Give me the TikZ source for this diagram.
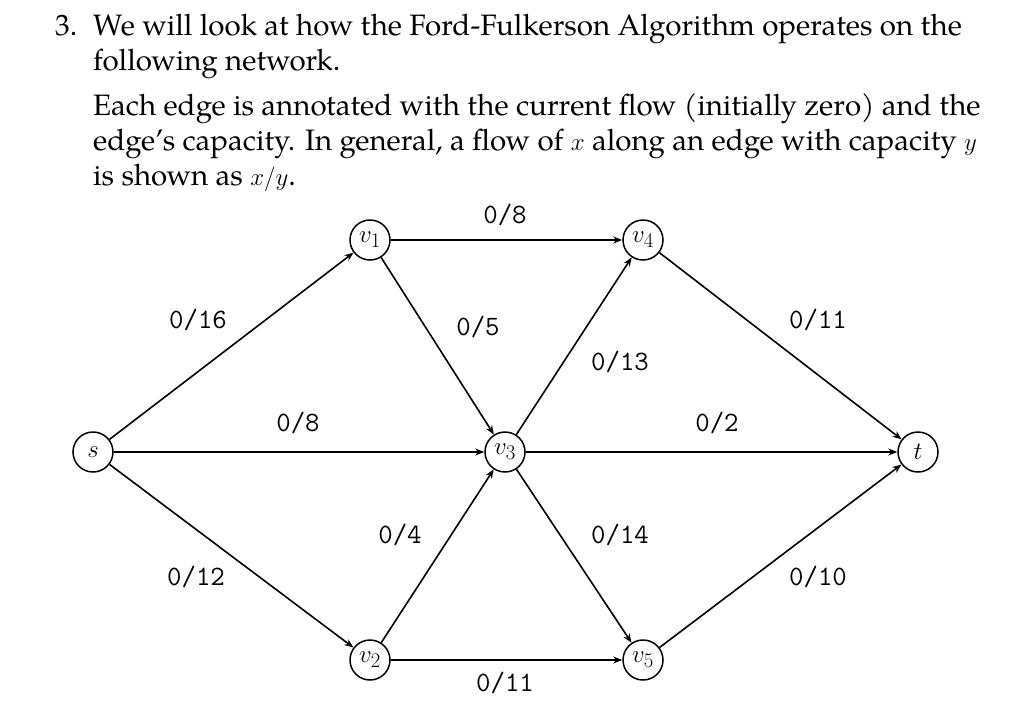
\documentclass[tikz,border=0pt]{standalone}
\usepackage{fontspec}
\setmainfont{TeX Gyre Pagella}
\usetikzlibrary{arrows.meta}
\begin{document}
\begin{tikzpicture}[x=1pt,y=-1pt,
  vert/.style={circle,draw,line width=1.5pt,minimum size=40pt,inner sep=0pt,font=\fontsize{28}{28}\selectfont},
  lab/.style={font=\fontsize{28}{28}\ttfamily},
  txt/.style={anchor=base west,inner sep=0pt,font=\fontsize{29.5}{30}\selectfont},
  edge/.style={-{Stealth[length=9pt,width=7pt]},line width=1.6pt}]
\useasboundingbox (0,0) rectangle (1024,716);
\node[txt] (n3) at (55,35) {3.};
\node[txt] (l1) at (93,35) {We will look at how the Ford-Fulkerson Algorithm operates on the};
\node[txt] (l2) at (93,70) {following network.};
\node[txt] (l3) at (93,115) {Each edge is annotated with the current flow (initially zero) and the};
\node[txt] (l4) at (93,150) {edge’s capacity. In general, a flow of $x$ along an edge with capacity $y$};
\node[txt] (l5) at (93,185) {is shown as $x/y$.};
\node[vert] (s) at (93,452) {$s$};
\node[vert] (v1) at (370,240) {$v_1$};
\node[vert] (v4) at (643,240) {$v_4$};
\node[vert] (v3) at (505,452) {$v_3$};
\node[vert] (t) at (918,452) {$t$};
\node[vert] (v2) at (370,660) {$v_2$};
\node[vert] (v5) at (643,660) {$v_5$};
\draw[edge] (s) -- (v1);
\draw[edge] (s) -- (v3);
\draw[edge] (s) -- (v2);
\draw[edge] (v1) -- (v4);
\draw[edge] (v1) -- (v3);
\draw[edge] (v3) -- (v4);
\draw[edge] (v4) -- (t);
\draw[edge] (v3) -- (t);
\draw[edge] (v2) -- (v3);
\draw[edge] (v3) -- (v5);
\draw[edge] (v2) -- (v5);
\draw[edge] (v5) -- (t);
\node[lab] (a) at (505,215) {0/8};
\node[lab] (b) at (198,320) {0/16};
\node[lab] (c) at (478,327) {0/5};
\node[lab] (d) at (620,362) {0/13};
\node[lab] (e) at (818,320) {0/11};
\node[lab] (f) at (298,423) {0/8};
\node[lab] (g) at (717,423) {0/2};
\node[lab] (h) at (400,535) {0/4};
\node[lab] (i) at (620,535) {0/14};
\node[lab] (j) at (196,577) {0/12};
\node[lab] (k) at (818,577) {0/10};
\node[lab] (m) at (505,683) {0/11};
\end{tikzpicture}
\end{document}
